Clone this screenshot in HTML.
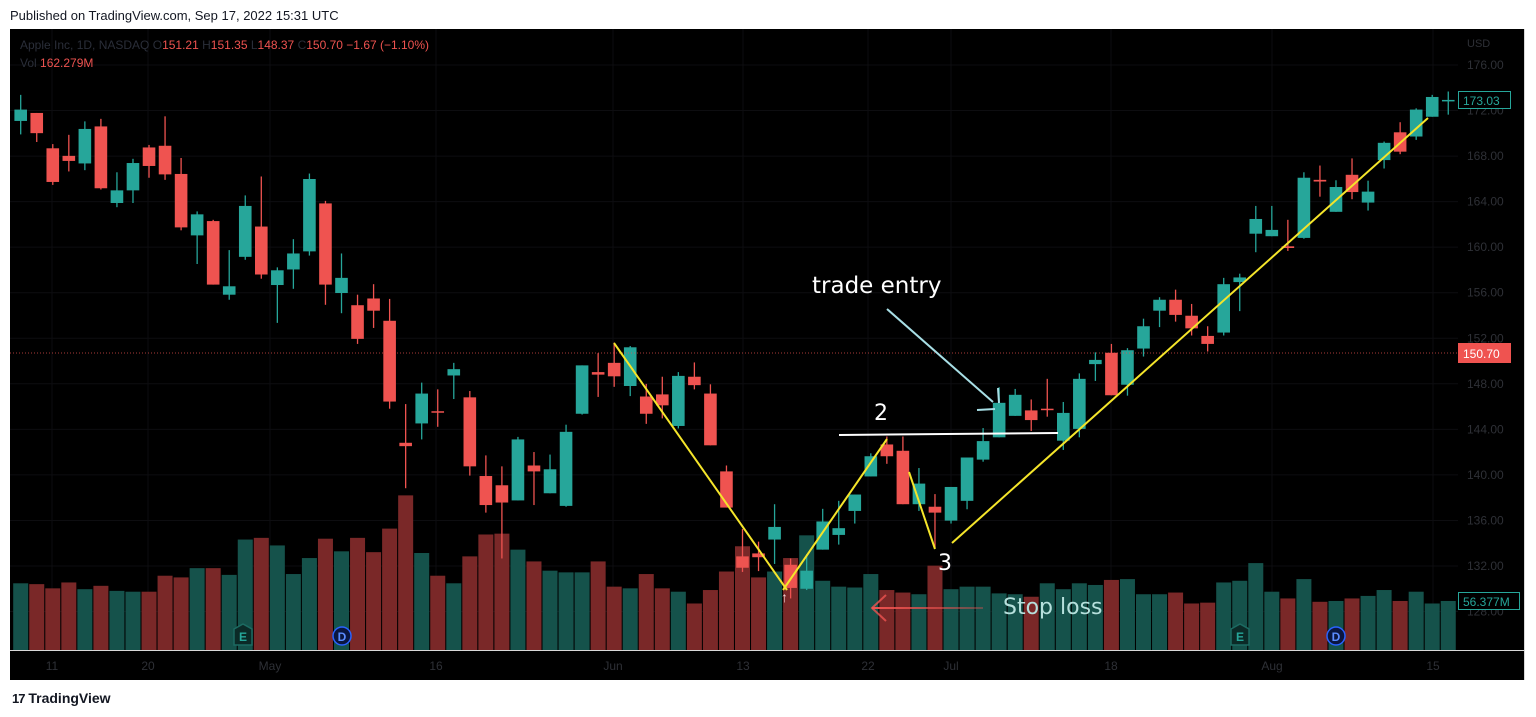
<!DOCTYPE html>
<html><head><meta charset="utf-8"><style>
html,body{margin:0;padding:0;background:#fff;width:1536px;height:717px;overflow:hidden;font-family:"Liberation Sans",sans-serif}
#hdr{position:absolute;left:10px;top:8px;font-size:13px;color:#131722}
#ftr{position:absolute;left:12px;top:690px;font-size:14px;color:#131722;font-weight:bold}
svg{position:absolute;left:0;top:0}
</style></head><body>
<div id="hdr">Published on TradingView.com, Sep 17, 2022 15:31 UTC</div>
<div id="ftr"><span style="font-size:13px;letter-spacing:-1px">17</span> TradingView</div>
<svg id="s" width="1536" height="717" xmlns="http://www.w3.org/2000/svg"></svg>
<script>
const K=2.377,O=30.5;const Y=v=>O+v/K;
const C=[
['g',188,215,153,247],['r',196,244,196,265],['r',280,360,270,367],['r',298,310,248,335],['g',234,316,216,332],
['r',228,375,210,378],['g',380,410,337,420],['g',315,380,305,410],['r',278,322,272,350],['r',274,342,204,355],
['r',341,468,303,475],['g',437,487,430,555],['r',453,604,450,604],['g',608,628,522,640],['g',417,538,392,545],
['r',466,580,347,590],['g',570,605,563,695],['g',530,568,496,614],['g',353,525,340,535],['r',411,604,405,652],
['g',588,624,530,672],['r',653,733,628,745],['r',637,666,603,707],['r',690,882,638,899],['r',980,988,888,1088],
['g',863,934,837,972],['r',905,908,853,942],['g',805,820,790,876],['r',872,1036,857,1058],['r',1059,1128,1010,1146],
['r',1081,1122,1036,1255],['g',972,1117,966,1117],['r',1034,1048,1002,1128],['g',1043,1100,1008,1100],['g',954,1130,937,1132],
['g',796,911,796,913],['r',812,818,767,871],['r',790,822,742,847],['g',753,845,750,869],['r',870,911,840,935],
['r',865,891,823,922],['g',821,940,812,946],['r',823,843,789,853],['r',863,986,841,986],['r',1048,1134,1034,1134],
['r',1250,1277,1185,1287],['r',1243,1252,1215,1285],['g',1180,1210,1126,1268],['r',1270,1325,1255,1350],['g',1284,1327,1245,1330],
['g',1167,1234,1137,1234],['g',1183,1199,1118,1222],['g',1103,1142,1103,1172],['g',1012,1060,1005,1060],['r',984,1012,965,1030],
['r',999,1126,965,1126],['g',1077,1126,1040,1142],['r',1132,1146,1102,1230],['g',1085,1165,1085,1172],['g',1015,1118,1015,1138],
['g',976,1020,945,1025],['g',885,967,848,967],['g',866,916,852,916],['r',903,926,877,952],['r',899,902,828,918],
['g',909,975,883,997],['g',828,947,815,967],['g',783,793,765,833],['r',766,867,745,867],['g',760,842,755,868],
['g',703,756,685,775],['g',640,666,634,705],['r',640,676,616,692],['r',678,708,650,725],['r',726,745,703,763],
['g',603,718,588,725],['g',587,598,578,667],['g',448,483,417,527],['g',474,489,417,489],['r',513,517,450,524],
['g',350,493,337,495],['r',355,359,321,395],['g',372,431,356,431],['r',343,384,304,401],['g',383,409,357,428],
['g',267,308,264,328],['r',242,288,218,294],['g',188,252,185,260],['g',158,205,153,205],['g',165,168,145,200]];
const V=[1314,1316,1326,1312,1328,1320,1332,1334,1334,1296,1300,1278,1278,1294,1210,1206,1224,1292,1254,1208,1238,1206,1240,1184,1105,
1242,1296,1314,1250,1198,1196,1234,1262,1284,1288,1288,1262,1322,1326,1292,1326,1334,1362,1330,1286,1226,1300,1286,1254,
1200,1308,1322,1324,1292,1330,1336,1340,1272,1328,1322,1322,1338,1340,1346,1314,1328,1314,1318,1306,1304,1340,1340,1336,
1362,1360,1312,1308,1266,1334,1350,1304,1358,1356,1350,1344,1330,1356,1334,1362,1356];
let h='';
h+='<rect x="10" y="29" width="1515" height="651" fill="#000"/>';
for(let p=176;p>=128;p-=4){const y=65+(176-p)*11.386;h+=`<line x1="10" x2="1458" y1="${y}" y2="${y}" stroke="#0d0d10"/>`;}
[52,148,270,436,613,743,868,951,1111,1272,1433].forEach(x=>h+=`<line x1="${x}" x2="${x}" y1="29" y2="651" stroke="#0d0d10"/>`);
const X=i=>20.7+16.04*i;
V.forEach((v,i)=>{let c=C[i][0];if(i==64)c='g';h+=`<rect x="${X(i)-7.5}" y="${Y(v)}" width="15" height="${650-Y(v)}" fill="${c=='g'?'#15524b':'#7a2828'}"/>`;});
C.forEach((c,i)=>{const col=c[0]=='g'?'#26a69a':'#ef5350';const x=X(i);
h+=`<line x1="${x}" x2="${x}" y1="${Y(c[3])}" y2="${Y(c[4])}" stroke="${col}" stroke-width="1.3"/>`;
const t=Y(c[1]),b=Math.max(Y(c[2]),t+1.5);h+=`<rect x="${x-6.3}" y="${t}" width="12.6" height="${b-t}" fill="${col}"/>`;});
h+='<line x1="10" x2="1458" y1="353" y2="353" stroke="#ef5350" stroke-dasharray="1,2" opacity="0.7"/>';
h+='<line x1="10" x2="1524" y1="650.5" y2="650.5" stroke="#d8d8d8"/><line x1="1524.5" x2="1524.5" y1="29" y2="680" stroke="#d8d8d8"/>';
h+='<text x="1467" y="47" fill="#2e3036" font-size="11">USD</text>';
for(let p=176;p>=128;p-=4){const y=65+(176-p)*11.386;h+=`<text x="1467" y="${y+4}" fill="#2e3036" font-size="12">${p}.00</text>`;}
h+='<rect x="1458.5" y="91.5" width="52" height="17" fill="#000" stroke="#26a69a"/><text x="1463" y="105" fill="#26a69a" font-size="12">173.03</text>';
h+='<rect x="1458" y="343" width="53" height="20" fill="#ef5350"/><text x="1463" y="358" fill="#fff" font-size="12">150.70</text>';
h+='<rect x="1458.5" y="592.5" width="61" height="17" fill="#000" stroke="#26a69a"/><text x="1463" y="606" fill="#26a69a" font-size="12">56.377M</text>';
[['11',52],['20',148],['May',270],['16',436],['Jun',613],['13',743],['22',868],['Jul',951],['18',1111],['Aug',1272],['15',1433]].forEach(a=>h+=`<text x="${a[1]}" y="670" fill="#2e3036" font-size="12" text-anchor="middle">${a[0]}</text>`);
h+='<text x="20" y="49" font-size="12" fill="#2a2e39">Apple Inc, 1D, NASDAQ <tspan fill="#2a2e39">O</tspan><tspan fill="#ef5350">151.21</tspan> <tspan fill="#2a2e39">H</tspan><tspan fill="#ef5350">151.35</tspan> <tspan fill="#2a2e39">L</tspan><tspan fill="#ef5350">148.37</tspan> <tspan fill="#2a2e39">C</tspan><tspan fill="#ef5350">150.70</tspan> <tspan fill="#ef5350">−1.67 (−1.10%)</tspan></text>';
h+='<text x="20" y="67" font-size="12" fill="#2a2e39">Vol <tspan fill="#ef5350">162.279M</tspan></text>';
[[243,'E'],[1240,'E']].forEach(a=>h+=`<path d="M${a[0]-9} ${629} L${a[0]} ${624} L${a[0]+9} ${629} L${a[0]+9} ${645} L${a[0]-9} ${645}Z" fill="#0b2a27" stroke="#1c6b62" stroke-width="1.5"/><text x="${a[0]}" y="641" fill="#26a69a" font-size="12" font-weight="bold" text-anchor="middle">E</text>`);
[[342,'D'],[1336,'D']].forEach(a=>h+=`<circle cx="${a[0]}" cy="636" r="9" fill="#0a1640" stroke="#2962ff" stroke-width="1.5"/><text x="${a[0]}" y="641" fill="#5b8cff" font-size="12" font-weight="bold" text-anchor="middle">D</text>`);
const yl='#f5e52a';
h+=`<line x1="614" y1="343" x2="787" y2="590" stroke="${yl}" stroke-width="2"/>`;
h+=`<line x1="783" y1="590" x2="887" y2="439" stroke="${yl}" stroke-width="2"/>`;
h+=`<line x1="909" y1="472" x2="935" y2="549" stroke="${yl}" stroke-width="2"/>`;
h+=`<line x1="952" y1="543" x2="1428" y2="118" stroke="${yl}" stroke-width="2"/>`;
h+='<line x1="839" y1="435" x2="1058" y2="433" stroke="#fff" stroke-width="2"/>';
h+='<text x="874" y="420" fill="#fff" font-size="22" font-family="DejaVu Sans,sans-serif">2</text>';
h+='<text x="938" y="570" fill="#fff" font-size="22" font-family="DejaVu Sans,sans-serif">3</text>';
h+='<text x="812" y="293" fill="#fff" font-size="23" font-family="DejaVu Sans,sans-serif">trade entry</text>';
h+='<line x1="887" y1="309" x2="993" y2="402" stroke="#a8dfe6" stroke-width="2"/><line x1="998" y1="388" x2="999" y2="403" stroke="#a8dfe6" stroke-width="2"/><line x1="977" y1="410" x2="995" y2="409" stroke="#a8dfe6" stroke-width="2"/>';
h+='<defs><linearGradient id="ar" gradientUnits="userSpaceOnUse" x1="872" y1="0" x2="983" y2="0"><stop offset="0" stop-color="#ef5350"/><stop offset="1" stop-color="#ef5350" stop-opacity="0.35"/></linearGradient></defs>';
h+='<line x1="872" y1="608" x2="983" y2="608" stroke="url(#ar)" stroke-width="2"/><polyline points="886,595 872,608 886,621" fill="none" stroke="#ef5350" stroke-width="2" opacity="0.8"/>';
h+='<text x="1003" y="614" fill="#b6e0dc" font-size="22" font-family="DejaVu Sans,sans-serif">Stop loss</text>';
h+='<text x="781" y="602" fill="#f0d0d0" font-size="14">↑</text>';
document.getElementById('s').innerHTML=h;
</script>
</body></html>
